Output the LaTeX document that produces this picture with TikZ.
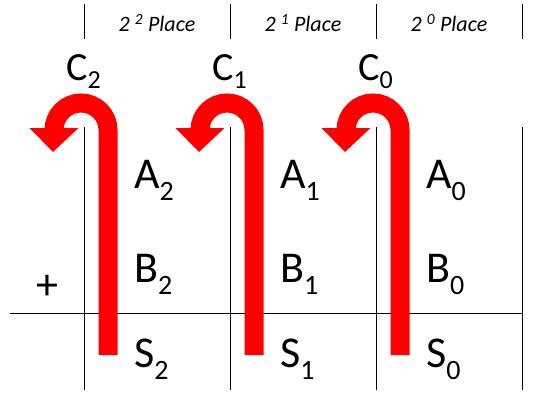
\documentclass[tikz,border=0pt]{standalone}
\usepackage{fontspec}
\setmainfont{Carlito}
\usepackage{tikz}
\usetikzlibrary{positioning}

\newcommand{\bigsub}[1]{\raisebox{-12pt}{\fontsize{28}{28}\selectfont #1}}
\newcommand{\carsub}[1]{\raisebox{-8pt}{\fontsize{26}{26}\selectfont #1}}

\tikzset{
  grid line/.style = {black, line width = 0.8pt},
  carry arrow/.style = {red, line width = 19pt},
  carry tip/.style = {fill = red},
  bit/.style = {anchor = base west, inner sep = 0pt, font = \fontsize{44}{44}\selectfont},
  carry/.style = {anchor = base west, inner sep = 0pt, font = \fontsize{40}{40}\selectfont},
  place/.style = {anchor = base, inner sep = 0pt, font = \fontsize{22}{22}\selectfont\itshape}
}

\begin{document}
\begin{tikzpicture}[x = 1pt, y = 1pt]
    \useasboundingbox (0, 0) rectangle (556, 400);

    % header
    \draw[grid line] (84, 396) -- (84, 361);
    \draw[grid line] (230, 396) -- (230, 361);
    \draw[grid line] (376, 396) -- (376, 361);
    \draw[grid line] (522, 396) -- (522, 361);

    \node[place] (p2) at (157, 368) {2 \textsuperscript{2} Place};
    \node[place] (p1) at (303, 368) {2 \textsuperscript{1} Place};
    \node[place] (p0) at (449, 368) {2 \textsuperscript{0} Place};

    % columns
    \draw[grid line] (84, 273) -- (84, 10);
    \draw[grid line] (230, 273) -- (230, 10);
    \draw[grid line] (376, 273) -- (376, 10);
    \draw[grid line] (522, 273) -- (522, 10);
    \draw[grid line] (10, 87) -- (522, 87);

    % carries
    \draw[carry arrow] (108, 45) -- (108, 270) arc (0:180:27) -- (54, 272);
    \fill[carry tip] (29.5, 272) -- (78.5, 272) -- (53, 248) -- cycle;
    \draw[carry arrow] (254, 45) -- (254, 270) arc (0:180:27) -- (200, 272);
    \fill[carry tip] (175.5, 272) -- (224.5, 272) -- (199, 248) -- cycle;
    \draw[carry arrow] (400, 45) -- (400, 270) arc (0:180:27) -- (346, 272);
    \fill[carry tip] (321.5, 272) -- (370.5, 272) -- (345, 248) -- cycle;

    \node[carry] (c2) at (66, 320) {C\carsub{2}};
    \node[carry] (c1) at (212, 320) {C\carsub{1}};
    \node[carry] (c0) at (358, 320) {C\carsub{0}};

    % bits
    \node[bit] (a2) at (134, 212) {A\bigsub{2}};
    \node[bit] (a1) at (280, 212) {A\bigsub{1}};
    \node[bit] (a0) at (426, 212) {A\bigsub{0}};
    \node[bit] (b2) at (134, 118) {B\bigsub{2}};
    \node[bit] (b1) at (280, 118) {B\bigsub{1}};
    \node[bit] (b0) at (426, 118) {B\bigsub{0}};
    \node[bit] (s2) at (134, 33) {S\bigsub{2}};
    \node[bit] (s1) at (280, 33) {S\bigsub{1}};
    \node[bit] (s0) at (426, 33) {S\bigsub{0}};

    \node[inner sep = 0pt, font = \fontsize{44}{44}\selectfont] (plus) at (47.5, 112.5) {+};
\end{tikzpicture}
\end{document}
